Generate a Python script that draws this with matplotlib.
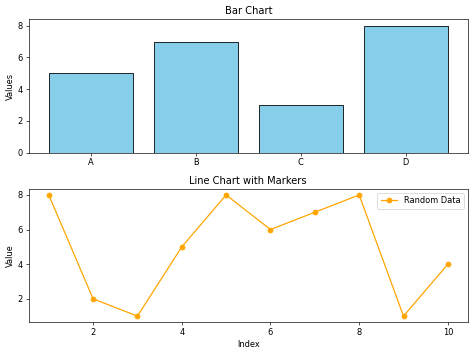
import numpy as np
import matplotlib
matplotlib.use('Agg')
import matplotlib.pyplot as plt

categories = ['A', 'B', 'C', 'D']
bar_values = [5, 7, 3, 8]

index = [1, 2, 3, 4, 5, 6, 7, 8, 9, 10]
line_values = [8, 2, 1, 5, 8, 6, 7, 8, 1, 4]

fig, (ax1, ax2) = plt.subplots(2, 1, figsize=(8, 5.975))

ax1.bar(categories, bar_values, color='skyblue', edgecolor='black')
ax1.set_title('Bar Chart')
ax1.set_ylabel('Values')
ax1.set_yticks([0, 2, 4, 6, 8])

ax2.plot(index, line_values, marker='o', color='orange', label='Random Data')
ax2.set_title('Line Chart with Markers')
ax2.set_xlabel('Index')
ax2.set_ylabel('Value')
ax2.set_xticks([2, 4, 6, 8, 10])
ax2.set_yticks([2, 4, 6, 8])
ax2.legend(loc='upper right')

plt.tight_layout(pad=0.75, h_pad=1.08)
plt.savefig('out.png', dpi=59.25)
